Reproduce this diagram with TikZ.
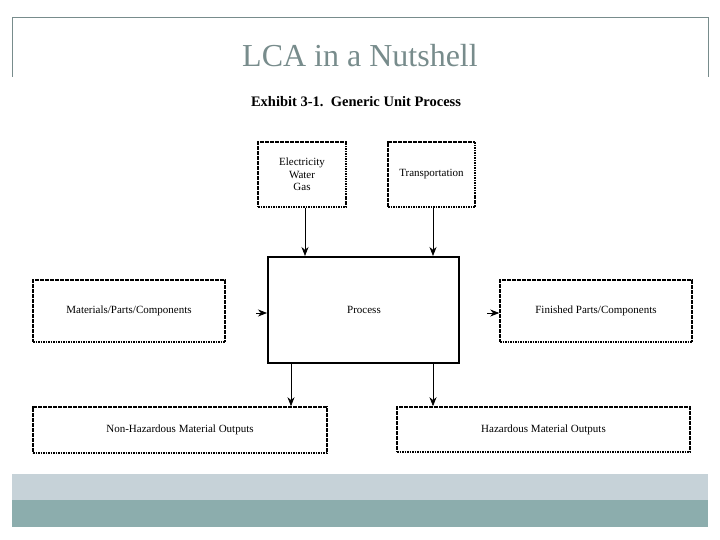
\documentclass[tikz,border=0pt]{standalone}
\usepackage{fontspec}
\setmainfont{Liberation Serif}
\usetikzlibrary{arrows.meta}
\definecolor{ttl}{RGB}{120,140,140}
\definecolor{lband}{RGB}{198,210,216}
\definecolor{dband}{RGB}{140,173,173}
\begin{document}
\begin{tikzpicture}[x=1pt,y=-1pt,
 dbox/.style={draw,line width=1.6pt,dash pattern=on 1.6pt off 0.9pt,inner sep=0pt,font=\fontsize{11}{12.5}\selectfont,align=center},
 arr/.style={-{Stealth[length=9pt,width=7pt]},line width=0.7pt}]
\useasboundingbox (0,0) rectangle (720,540);
\draw[ttl,line width=0.8pt] (12,77) -- (12,17) -- (708,17) -- (708,77);
\node[text=ttl,font=\fontsize{32}{36}\selectfont] (title) at (360,56) {LCA in a Nutshell};
\node[font=\bfseries\fontsize{14.5}{16}\selectfont] (ex) at (356,102) {Exhibit 3-1.\ \ Generic Unit Process};
\node[dbox,minimum width=88pt,minimum height=65pt] (el) at (302,174.5) {Electricity\\Water\\Gas};
\node[dbox,minimum width=87pt,minimum height=65pt] (tr) at (431.5,174.5) {Transportation};
\node[draw,line width=1.8pt,minimum width=191pt,minimum height=106pt,anchor=north west] (pr) at (267,256) {};
\node[font=\fontsize{11}{12}\selectfont] at (364,310) {Process};
\node[dbox,minimum width=192pt,minimum height=62pt] (ma) at (129,311) {Materials/Parts/Components};
\node[dbox,minimum width=192pt,minimum height=62pt] (fi) at (596,311) {Finished Parts/Components};
\node[dbox,minimum width=294pt,minimum height=46pt] (nh) at (180,430) {\raisebox{-6pt}{Non-Hazardous Material Outputs}};
\node[dbox,minimum width=293pt,minimum height=45pt] (hz) at (543.5,429.5) {Hazardous Material Outputs};
\coordinate (la) at (256,313);
\coordinate (ra) at (487,313);
\draw[arr] (el.south -| 305,0) -- (pr.north -| 305,0);
\draw[arr] (tr.south -| 433,0) -- (pr.north -| 433,0);
\draw[arr] (la) -- (pr.west |- la);
\draw[arr] (ra) -- (fi.west |- ra);
\draw[arr] (pr.south -| 291,0) -- (nh.north -| 291,0);
\draw[arr] (pr.south -| 433,0) -- (hz.north -| 433,0);
\fill[lband] (12,474) rectangle (708,500);
\fill[dband] (12,500) rectangle (708,527);
\end{tikzpicture}
\end{document}
